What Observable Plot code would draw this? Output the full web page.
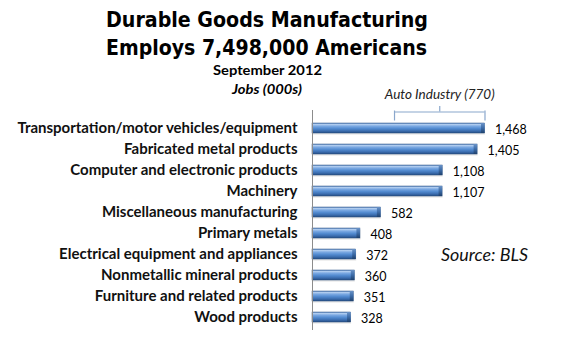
<!DOCTYPE html>
<html>
<head>
<meta charset="utf-8">
<script src="https://cdn.jsdelivr.net/npm/d3@7"></script>
<script src="https://cdn.jsdelivr.net/npm/@observablehq/plot@0.6"></script>
<style>
  html, body { margin: 0; padding: 0; background: #fff; }
  #wrap { position: relative; width: 570px; height: 353px; overflow: hidden; }
  #wrap > svg { position: absolute; left: 0; top: 0; }
  #overlay { pointer-events: none; }
  g[aria-label="y-axis tick label"] text { font-weight: bold; font-size: 15px; fill: #111; }
</style>
</head>
<body>
<div id="wrap"></div>
<script>
// ---- data ----
const categories = [
  "Transportation/motor vehicles/equipment",
  "Fabricated metal products",
  "Computer and electronic products",
  "Machinery",
  "Miscellaneous manufacturing",
  "Primary metals",
  "Electrical equipment and appliances",
  "Nonmetallic mineral products",
  "Furniture and related products",
  "Wood products"
];
const jobs = [1468, 1405, 1108, 1107, 582, 408, 372, 360, 351, 328];
const autoIndustry = 770;
const autoCategory = "Transportation/motor vehicles/equipment";
const titleLines = ["Durable Goods Manufacturing", "Employs 7,498,000 Americans"];
const subtitle = "September 2012";
const unitsLabel = "Jobs (000s)";
const sourceLabel = "Source: BLS";

const data = categories.map((c, i) => ({category: c, value: jobs[i]}));
const autoTotal = jobs[categories.indexOf(autoCategory)];
const bracket = [{category: autoCategory, start: autoTotal - autoIndustry, end: autoTotal, mid: autoTotal - autoIndustry / 2}];
const fmt = d3.format(",");
const bracketColor = "#8aa7cc";

const plot = Plot.plot({
  width: 570,
  height: 353,
  marginTop: 110,
  marginBottom: 23,
  marginLeft: 312,
  marginRight: 70,
  style: {fontFamily: "Lato, 'Open Sans', sans-serif", fontSize: "12px", background: "white"},
  x: {domain: [0, 1600], axis: null},
  y: {domain: categories, paddingInner: 0.54, paddingOuter: 0.39, align: 0.62, label: null},
  marks: [
    Plot.axisY({tickSize: 0, tickPadding: 15, label: null}),
    // shadow
    Plot.barX(data, {x: "value", y: "category", fill: "#bdbdbd", fillOpacity: 0.45, dy: 1.5, dx: 0.5}),
    Plot.barX(data, {x: "value", y: "category", fill: "url(#barGrad)", stroke: "#2f5689", strokeWidth: 0.5}),
    // end cap
    Plot.barX(data, {x1: "value", x2: "value", y: "category", insetLeft: -3.5, fill: "url(#capGrad)"}),
    Plot.ruleX([0], {stroke: "#8c8c8c", strokeWidth: 1}),
    Plot.text(data, {x: "value", y: "category", text: d => fmt(d.value), textAnchor: "start", dx: 10, dy: 1.5, fill: "#000", fontSize: 12.5}),
    // auto industry bracket
    Plot.ruleY(bracket, {y: "category", x1: "start", x2: "end", dy: -16.5, stroke: bracketColor, strokeWidth: 1.2}),
    Plot.tickX(bracket, {x: "start", y: "category", dy: -12.5, stroke: bracketColor, strokeWidth: 1.2}),
    Plot.tickX(bracket, {x: "end", y: "category", dy: -12.5, stroke: bracketColor, strokeWidth: 1.2}),
    Plot.tickX(bracket, {x: "mid", y: "category", dy: -17, insetBottom: 4.5, stroke: bracketColor, strokeWidth: 1.2}),
    Plot.text(bracket, {x: "mid", y: "category", text: () => `Auto Industry (${autoIndustry})`, dy: -34, fontStyle: "italic", fontSize: 13.5, fill: "#222"})
  ]
});

// gradient defs for the cylinder-like bars
const ns = "http://www.w3.org/2000/svg";
const defs = document.createElementNS(ns, "defs");
defs.innerHTML = `
  <linearGradient id="barGrad" x1="0" y1="0" x2="0" y2="1">
    <stop offset="0" stop-color="#4a78b4"/>
    <stop offset="0.12" stop-color="#b7d1f1"/>
    <stop offset="0.32" stop-color="#7aa8e2"/>
    <stop offset="0.55" stop-color="#538bd0"/>
    <stop offset="0.8" stop-color="#3a6cae"/>
    <stop offset="1" stop-color="#244b80"/>
  </linearGradient>
  <linearGradient id="capGrad" x1="0" y1="0" x2="0" y2="1">
    <stop offset="0" stop-color="#6a93c8"/>
    <stop offset="0.5" stop-color="#3d6ca8"/>
    <stop offset="1" stop-color="#1f416d"/>
  </linearGradient>`;
plot.insertBefore(defs, plot.firstChild);

const wrap = document.getElementById("wrap");
wrap.appendChild(plot);

// overlay titles
const ov = document.createElementNS(ns, "svg");
ov.setAttribute("id", "overlay");
ov.setAttribute("width", 570);
ov.setAttribute("height", 353);
function addText(txt, opts) {
  const t = document.createElementNS(ns, "text");
  t.textContent = txt;
  for (const [k, v] of Object.entries(opts)) t.setAttribute(k, v);
  ov.appendChild(t);
  return t;
}
const titleFont = "'DejaVu Sans', Lato, sans-serif";
addText(titleLines[0], {x: 106, y: 27, "font-family": titleFont, "font-weight": "bold", "font-size": 20.5, textLength: 322, lengthAdjust: "spacingAndGlyphs", fill: "#000"});
addText(titleLines[1], {x: 106, y: 55, "font-family": titleFont, "font-weight": "bold", "font-size": 20.5, textLength: 321, lengthAdjust: "spacingAndGlyphs", fill: "#000"});
addText(subtitle, {x: 213, y: 75, "font-family": "Lato, sans-serif", "font-weight": "bold", "font-size": 14, textLength: 109, lengthAdjust: "spacingAndGlyphs", fill: "#000"});
addText(unitsLabel, {x: 232, y: 94, "font-family": "Lato, sans-serif", "font-weight": "bold", "font-style": "italic", "font-size": 14, textLength: 70, lengthAdjust: "spacingAndGlyphs", fill: "#000"});
addText(sourceLabel, {x: 441, y: 261, "font-family": "Lato, sans-serif", "font-style": "italic", "font-size": 17.5, textLength: 87, lengthAdjust: "spacingAndGlyphs", fill: "#111"});
wrap.appendChild(ov);
</script>
</body>
</html>
